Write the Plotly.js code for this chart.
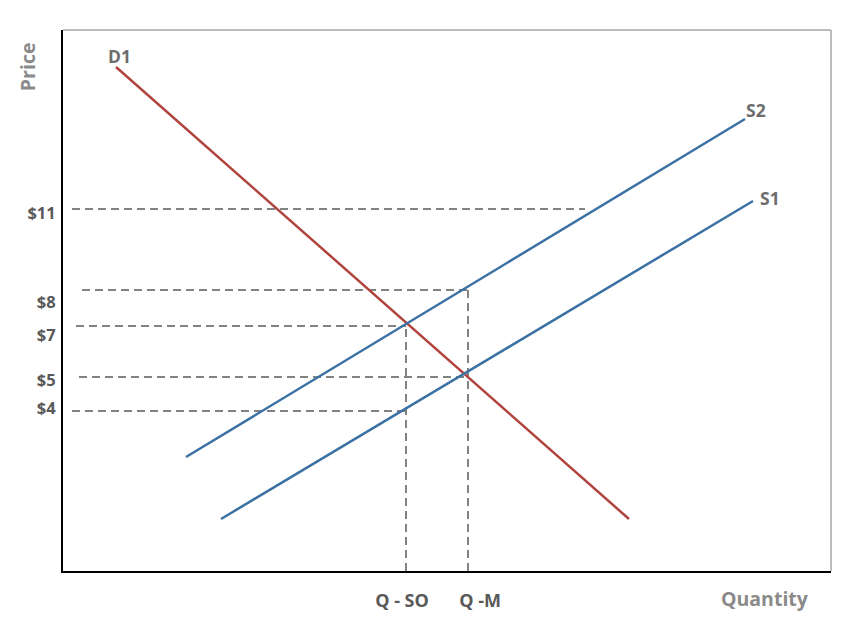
<!DOCTYPE html>
<html>
<head>
<meta charset="utf-8">
<script src="https://cdn.plot.ly/plotly-3.0.1.min.js"></script>
<style>html,body{margin:0;padding:0;background:#fff}#chart{width:847px;height:618px}</style>
</head>
<body>
<div id="chart"></div>
<script>
// Curves (Quantity, Price in arbitrary chart units)
const d1X = [5.3, 56.6];
const d1Y = [50.4, 5.2];
const s2X = [12.3, 68.2];
const s2Y = [11.4, 45.2];
const s1X = [15.8, 69.0];
const s1Y = [5.2, 37.0];

// Dashed guide lines: horizontal price levels
const guideY = [36.2, 28.1, 24.5, 19.4, 16.0];
const guideXStart = [0.9, 1.9, 1.3, 1.6, 0.9];
const guideXEnd = [52.2, 40.5, 34.3, 40.4, 34.2];
// Vertical quantity guides
const vGuideX = [34.3, 40.5];
const vGuideTop = [24.5, 28.1];

// Tick labels
const priceTickVals = [35.8, 26.9, 23.6, 19.1, 16.3];
const priceTickText = ['$11', '$8', '$7', '$5', '$4'];
const qtyTickVals = [33.9, 41.7];
const qtyTickText = ['Q - SO', 'Q -M'];

const curveLabels = ['D1', 'S2', 'S1'];
const curveLabelX = [4.3, 68.1, 69.5];
const curveLabelY = [51.5, 46.1, 37.3];

const red = '#b0433d';
const blue = '#3b71a3';
const dashC = '#595959';

const traces = [];
for (let i = 0; i < guideY.length; i++) {
  traces.push({x: [guideXStart[i], guideXEnd[i]], y: [guideY[i], guideY[i]], mode: 'lines',
    line: {color: dashC, width: 1.5, dash: '8px,5px'}, hoverinfo: 'skip', showlegend: false});
}
for (let i = 0; i < vGuideX.length; i++) {
  traces.push({x: [vGuideX[i], vGuideX[i]], y: [0, vGuideTop[i]], mode: 'lines',
    line: {color: dashC, width: 1.5, dash: '8px,5px'}, hoverinfo: 'skip', showlegend: false});
}
traces.push({x: d1X, y: d1Y, mode: 'lines', line: {color: red, width: 2.5}, showlegend: false});
traces.push({x: s2X, y: s2Y, mode: 'lines', line: {color: blue, width: 2.5}, showlegend: false});
traces.push({x: s1X, y: s1Y, mode: 'lines', line: {color: blue, width: 2.5}, showlegend: false});

const font = 'Open Sans, Liberation Sans, sans-serif';
const annotations = curveLabels.map((t, i) => ({
  x: curveLabelX[i], y: curveLabelY[i], text: '<b>' + t + '</b>', showarrow: false,
  xanchor: 'left', yanchor: 'middle', font: {family: font, size: 17.5, color: '#6d6d6d'}
}));
annotations.push({xref: 'paper', yref: 'paper', x: -0.047, y: 0.933, xanchor: 'center', yanchor: 'middle',
  text: '<b>Price</b>', textangle: -90, showarrow: false, font: {family: font, size: 19.5, color: '#8a8a8a'}});
annotations.push({xref: 'paper', yref: 'paper', x: 0.914, y: -0.05, xanchor: 'center', yanchor: 'middle',
  text: '<b>Quantity</b>', showarrow: false, font: {family: font, size: 19.5, color: '#8a8a8a'}});

const layout = {
  width: 847, height: 618,
  margin: {l: 63, r: 16, t: 30, b: 47},
  paper_bgcolor: '#fff', plot_bgcolor: '#fff',
  xaxis: {range: [0, 76.8], showgrid: false, zeroline: false, showline: true, linecolor: '#000', linewidth: 2,
    tickvals: qtyTickVals, ticktext: qtyTickText, ticks: '', ticklabelstandoff: 12,
    tickfont: {family: font, size: 18, color: '#595959', weight: 'bold'}, fixedrange: true},
  yaxis: {range: [0, 54.1], showgrid: false, zeroline: false, showline: true, linecolor: '#000', linewidth: 2,
    tickvals: priceTickVals, ticktext: priceTickText, ticks: '', ticklabelstandoff: 2,
    tickfont: {family: font, size: 16.5, color: '#595959', weight: 'bold'}, fixedrange: true},
  shapes: [
    {type: 'line', xref: 'paper', yref: 'paper', x0: 0, x1: 1, y0: 1, y1: 1, line: {color: '#a6a6a6', width: 1.5}},
    {type: 'line', xref: 'paper', yref: 'paper', x0: 1, x1: 1, y0: 0, y1: 1, line: {color: '#a6a6a6', width: 1.5}}
  ],
  annotations: annotations,
  showlegend: false
};
Plotly.newPlot('chart', traces, layout, {displayModeBar: false, staticPlot: true});
</script>
</body>
</html>
